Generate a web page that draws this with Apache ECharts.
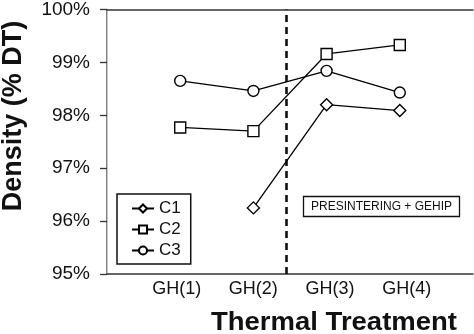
<!DOCTYPE html>
<html>
<head>
<meta charset="utf-8">
<script src="https://cdn.jsdelivr.net/npm/echarts@6/dist/echarts.min.js"></script>
<style>html,body{margin:0;padding:0;background:#fff;}#c{width:474px;height:334px;}</style>
</head>
<body>
<div id="c"></div>
<script>
const categories = ['GH(1)', 'GH(2)', 'GH(3)', 'GH(4)'];
const xPositions = [1, 2, 3, 4];
const c1 = [null, 96.25, 98.20, 98.09];
const c2 = [97.77, 97.70, 99.16, 99.33];
const c3 = [98.65, 98.46, 98.84, 98.43];
const yTicks = [95, 96, 97, 98, 99, 100];
const dividerX = 2.45;

const FONT = 'Liberation Sans, Arial, sans-serif';
function pairs(vals) { return vals.map((v, i) => [xPositions[i], v]); }

const seriesBase = {
  type: 'line',
  xAxisIndex: 0, yAxisIndex: 0,
  connectNulls: false,
  lineStyle: { color: '#000', width: 1.3 },
  itemStyle: { color: '#fff', borderColor: '#000', borderWidth: 1.4 },
  emphasis: { disabled: true },
  z: 5
};

const chart = echarts.init(document.getElementById('c'), null, { renderer: 'canvas' });
chart.setOption({
  animation: false,
  backgroundColor: '#fff',
  grid: [
    { left: 107, right: 1, top: 7, bottom: 60 },
    { left: 138.3, width: 306.7, top: 7, bottom: 60 }
  ],
  xAxis: [
    { type: 'value', gridIndex: 0, min: 0, max: 5, position: 'bottom',
      axisLine: { show: true, onZero: false, lineStyle: { color: '#333', width: 1.5 } },
      axisTick: { show: false }, axisLabel: { show: false }, splitLine: { show: false } },
    { type: 'value', gridIndex: 0, min: 0, max: 5, position: 'top',
      axisLine: { show: true, onZero: false, lineStyle: { color: '#333', width: 1.5 } },
      axisTick: { show: false }, axisLabel: { show: false }, splitLine: { show: false } },
    { type: 'category', gridIndex: 1, data: categories, boundaryGap: true, position: 'bottom',
      axisLine: { show: false }, axisTick: { show: false }, splitLine: { show: false },
      axisLabel: { show: true, fontFamily: FONT, fontSize: 18, color: '#111', margin: 6 } }
  ],
  yAxis: [
    { type: 'value', gridIndex: 0, min: yTicks[0], max: yTicks[yTicks.length - 1], interval: 1,
      axisLine: { show: true, lineStyle: { color: '#555', width: 1.5 } },
      axisTick: { show: true, inside: false, length: 7, lineStyle: { color: '#333', width: 1.3 } },
      axisLabel: { formatter: '{value}%', fontFamily: FONT, fontSize: 19, color: '#111', margin: 17 },
      splitLine: { show: false } },
    { type: 'value', gridIndex: 0, min: 95, max: 100, position: 'right',
      axisLine: { show: true, lineStyle: { color: '#c8c8c8', width: 1 } },
      axisTick: { show: false }, axisLabel: { show: false }, splitLine: { show: false } },
    { type: 'value', gridIndex: 1, show: false }
  ],
  legend: {
    orient: 'vertical',
    left: 117, top: 194,
    padding: [6, 10, 5, 14],
    itemGap: 4,
    itemWidth: 22, itemHeight: 10,
    borderColor: '#111', borderWidth: 1.5,
    backgroundColor: '#fff',
    textStyle: { fontFamily: FONT, fontSize: 17, color: '#111', lineHeight: 17 },
    data: ['C1', 'C2', 'C3']
  },
  title: {
    text: 'PRESINTERING + GEHIP',
    left: 303, top: 196,
    padding: [4, 8, 3, 8],
    borderColor: '#111', borderWidth: 1.3,
    textStyle: { fontFamily: FONT, fontSize: 12, fontWeight: 'normal', color: '#111', lineHeight: 14 }
  },
  graphic: [
    { type: 'text', x: 14, y: 116, rotation: Math.PI / 2,
      style: { text: 'Density (% DT)', font: 'bold 27px ' + FONT, fill: '#111', align: 'center', verticalAlign: 'middle' } },
    { type: 'text', x: 334, y: 323, scaleX: 1.1,
      style: { text: 'Thermal Treatment', font: 'bold 25px ' + FONT, fill: '#111', align: 'center', verticalAlign: 'middle' } }
  ],
  series: [
    Object.assign({}, seriesBase, {
      name: 'C1', data: pairs(c1), symbol: 'diamond', symbolSize: [12, 12],
      markLine: {
        silent: true, symbol: ['none', 'none'], label: { show: false },
        lineStyle: { type: [7, 5], width: 2.6, color: '#111' },
        emphasis: { disabled: true },
        data: [{ xAxis: dividerX }]
      }
    }),
    Object.assign({}, seriesBase, { name: 'C2', data: pairs(c2), symbol: 'rect', symbolSize: 11 }),
    Object.assign({}, seriesBase, { name: 'C3', data: pairs(c3), symbol: 'circle', symbolSize: 11 })
  ]
});
</script>
</body>
</html>
